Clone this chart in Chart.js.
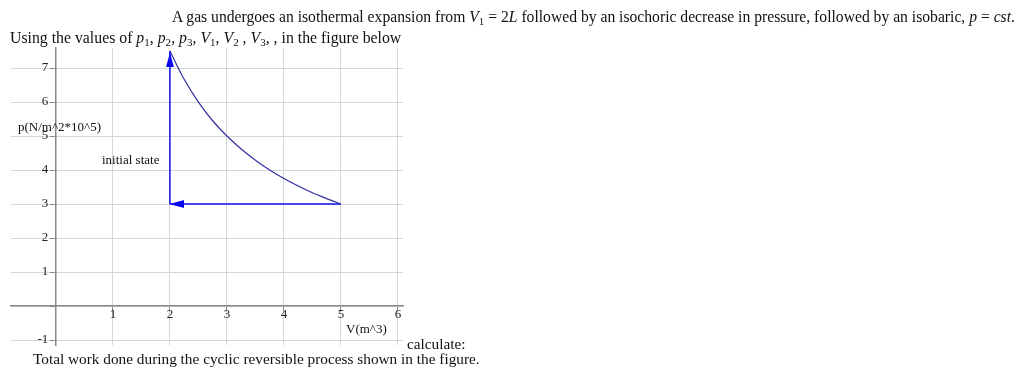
<!DOCTYPE html>
<html>
<head>
<meta charset="utf-8">
<script src="https://cdn.jsdelivr.net/npm/chart.js@4/dist/chart.umd.min.js"></script>
<style>
  body { margin: 0; background: #fff; font-family: "Liberation Serif", serif; color: #111; }
  #wrap { position: relative; width: 1024px; height: 390px; overflow: hidden; }
  #chart { position: absolute; left: 0; top: 0; }
  .txt { position: absolute; white-space: nowrap; font-size: 15.8px; }
  .m { font-style: italic; }
  sub { font-size: 70%; vertical-align: -3px; line-height: 0; }
  .lbl { position: absolute; white-space: nowrap; font-size: 13px; }
</style>
</head>
<body>
<div id="wrap">
  <canvas id="chart" width="1024" height="390"></canvas>
  <div class="txt" style="left:172px; top:8px; font-size:15.65px;">A gas undergoes an isothermal expansion from <span class="m">V</span><sub>1</sub> = 2<span class="m">L</span> followed by an isochoric decrease in pressure, followed by an isobaric, <span class="m">p</span> = <span class="m">cst</span>.</div>
  <div class="txt" style="left:10px; top:29px;">Using the values of <span class="m">p</span><sub>1</sub>, <span class="m">p</span><sub>2</sub>, <span class="m">p</span><sub>3</sub>, <span class="m">V</span><sub>1</sub>, <span class="m">V</span><sub>2</sub> , <span class="m">V</span><sub>3</sub>, , in the figure below</div>
  <div class="lbl" style="left:18px; top:119px;">p(N/m^2*10^5)</div>
  <div class="lbl" style="left:102px; top:152px;">initial state</div>
  <div class="lbl" style="left:346px; top:321px;">V(m^3)</div>
  <div class="txt" style="left:407px; top:335px; font-size:15.3px;">calculate:</div>
  <div class="txt" style="left:33px; top:350px; font-size:15.3px;">Total work done during the cyclic reversible process shown in the figure.</div>
</div>
<script>
// values
const xTicks = [-1, 0, 1, 2, 3, 4, 5, 6];
const yTicks = [-1, 0, 1, 2, 3, 4, 5, 6, 7];

// isochoric step at V = 2
const isochoricV = [2, 2];
const isochoricP = [3, 7.5];

// isothermal expansion 2 -> 5
const isothermV = [2, 2.25, 2.5, 2.75, 3, 3.25, 3.5, 3.75, 4, 4.25, 4.5, 4.75, 5];
const isothermP = [7.5, 6.67, 6.0, 5.45, 5.0, 4.62, 4.29, 4.0, 3.75, 3.53, 3.33, 3.16, 3.0];

// isobaric return at p = 3
const isobaricV = [5, 2];
const isobaricP = [3, 3];

// arrow heads
const arrowV = [2, 2.12];
const arrowP = [7.24, 3];
const arrowRot = [0, -90];

function pts(xs, ys) {
  return xs.map((x, i) => ({ x: x, y: ys[i] }));
}

// narrow triangle for the arrow head (points up)
function makeArrow() {
  const c = document.createElement('canvas');
  c.width = 8; c.height = 15;
  const g = c.getContext('2d');
  g.fillStyle = '#0000ee';
  g.beginPath();
  g.moveTo(4, 0);
  g.lineTo(8, 15);
  g.lineTo(0, 15);
  g.closePath();
  g.fill();
  return c;
}
const arrowImg = makeArrow();

const serif = { family: '"Liberation Serif", serif', size: 13 };

new Chart(document.getElementById('chart'), {
  type: 'scatter',
  data: {
    datasets: [
      {
        data: pts(isochoricV, isochoricP),
        showLine: true, borderColor: '#1010ee', borderWidth: 1.5, pointRadius: 0
      },
      {
        data: pts(isothermV, isothermP),
        showLine: true, borderColor: '#3030a0', borderWidth: 1.2, pointRadius: 0,
        tension: 0.4, cubicInterpolationMode: 'monotone'
      },
      {
        data: pts(isobaricV, isobaricP),
        showLine: true, borderColor: '#1010ee', borderWidth: 1.5, pointRadius: 0
      },
      {
        data: pts(arrowV, arrowP),
        showLine: false, pointStyle: arrowImg, pointRadius: 8, rotation: arrowRot
      }
    ]
  },
  options: {
    responsive: false,
    animation: false,
    events: [],
    layout: { padding: { left: 11, top: 48, right: 621, bottom: 45 } },
    plugins: { legend: { display: false }, tooltip: { enabled: false } },
    scales: {
      x: {
        type: 'linear',
        min: -0.788, max: 6.089,
        position: { y: 0 },
        afterBuildTicks: s => { s.ticks = xTicks.map(v => ({ value: v })); },
        ticks: {
          color: '#222', font: serif, padding: -4, maxRotation: 0,
          callback: v => (v === 0 || v === -1) ? '' : v
        },
        grid: { color: '#d6d6d6', lineWidth: 1, tickLength: 5, tickColor: '#888' },
        border: { display: true, color: '#8a8a8a', width: 1.5 }
      },
      y: {
        type: 'linear',
        min: -1.147, max: 7.59,
        position: { x: 0 },
        afterBuildTicks: s => { s.ticks = yTicks.map(v => ({ value: v })); },
        ticks: {
          color: '#222', font: serif,
          // trailing spaces keep the right-aligned labels clear of the axis
          callback: v => v === 0 ? '' : v + '  \u200a'
        },
        grid: { color: '#d6d6d6', lineWidth: 1, tickLength: 5, tickColor: '#888' },
        border: { display: true, color: '#8a8a8a', width: 1.5 }
      }
    }
  }
});
</script>
</body>
</html>
